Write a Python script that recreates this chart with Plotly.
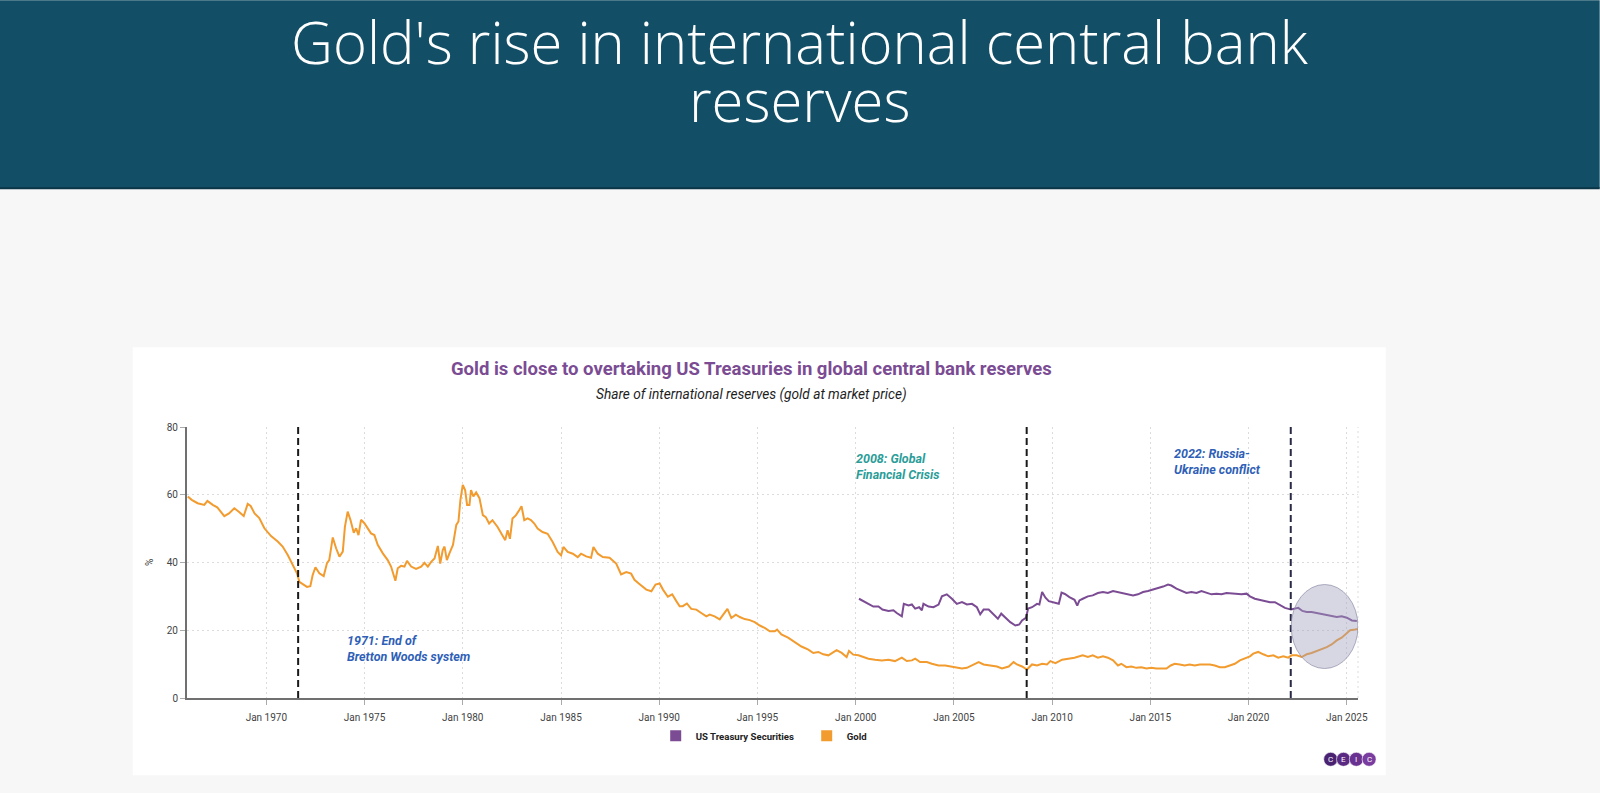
import pandas as pd
import plotly.graph_objects as go

# ---------------- data ----------------
gold_years = [
    1966.0, 1966.2, 1966.5, 1966.84, 1967.0, 1967.27, 1967.5, 1967.86, 1968.1, 1968.37,
    1968.6, 1968.85, 1969.05, 1969.2, 1969.4, 1969.64, 1969.9, 1970.24, 1970.58, 1970.83,
    1971.09, 1971.34, 1971.56, 1971.68, 1971.85, 1972.07, 1972.24, 1972.36, 1972.5, 1972.7,
    1972.92, 1973.09, 1973.2, 1973.38, 1973.55, 1973.72, 1973.89, 1974.0, 1974.14, 1974.28,
    1974.45, 1974.57, 1974.69, 1974.82, 1974.99, 1975.16, 1975.33, 1975.5, 1975.67, 1975.93,
    1976.18, 1976.35, 1976.49, 1976.57, 1976.69, 1976.86, 1977.03, 1977.16, 1977.37, 1977.62,
    1977.88, 1978.05, 1978.22, 1978.39, 1978.56, 1978.73, 1978.85, 1978.98, 1979.07, 1979.19,
    1979.32, 1979.5, 1979.67, 1979.78, 1979.88, 1980.0, 1980.12, 1980.22, 1980.34, 1980.42,
    1980.54, 1980.68, 1980.85, 1981.02, 1981.17, 1981.34, 1981.51, 1981.77, 1982.02, 1982.16,
    1982.28, 1982.4, 1982.53, 1982.7, 1982.87, 1982.99, 1983.13, 1983.3, 1983.47, 1983.64,
    1983.81, 1984.06, 1984.32, 1984.57, 1984.83, 1985.0, 1985.12, 1985.34, 1985.6, 1985.85,
    1986.02, 1986.28, 1986.53, 1986.65, 1986.87, 1987.13, 1987.47, 1987.81, 1988.06, 1988.32,
    1988.57, 1988.74, 1988.96, 1989.34, 1989.6, 1989.81, 1990.02, 1990.19, 1990.44, 1990.66,
    1990.87, 1991.04, 1991.2, 1991.41, 1991.63, 1991.89, 1992.14, 1992.4, 1992.57, 1992.82,
    1993.08, 1993.3, 1993.47, 1993.67, 1993.9, 1994.1, 1994.35, 1994.61, 1994.86, 1995.12,
    1995.37, 1995.63, 1995.88, 1996.0, 1996.22, 1996.56, 1996.9, 1997.24, 1997.59, 1997.84,
    1998.1, 1998.35, 1998.61, 1998.81, 1999.03, 1999.29, 1999.54, 1999.66, 1999.88, 2000.14,
    2000.39, 2000.65, 2000.99, 2001.33, 2001.67, 2002.0, 2002.35, 2002.6, 2002.86, 2003.03,
    2003.28, 2003.62, 2003.88, 2004.22, 2004.56, 2004.81, 2005.07, 2005.41, 2005.66, 2006.0,
    2006.26, 2006.51, 2006.85, 2007.19, 2007.45, 2007.79, 2008.04, 2008.21, 2008.47, 2008.72,
    2008.98, 2009.23, 2009.49, 2009.74, 2009.91, 2010.17, 2010.51, 2010.88, 2011.14, 2011.39,
    2011.56, 2011.82, 2012.07, 2012.33, 2012.59, 2012.84, 2013.1, 2013.35, 2013.52, 2013.78,
    2014.03, 2014.29, 2014.54, 2014.8, 2015.05, 2015.31, 2015.56, 2015.82, 2016.04, 2016.24,
    2016.5, 2016.75, 2017.0, 2017.26, 2017.52, 2017.77, 2018.03, 2018.28, 2018.54, 2018.79,
    2019.05, 2019.3, 2019.56, 2019.81, 2020.07, 2020.24, 2020.49, 2020.75, 2021.0, 2021.26,
    2021.51, 2021.77, 2022.02, 2022.19, 2022.45, 2022.7, 2022.96, 2023.21, 2023.47, 2023.72,
    2023.98, 2024.23, 2024.49, 2024.74, 2025.0, 2025.17, 2025.43, 2025.56,
]
gold_share = [
    59.5, 58.5, 57.5, 57.0, 58.2, 57.0, 56.3, 53.7, 54.5, 56.0,
    55.0, 53.7, 57.3, 56.7, 54.5, 53.1, 50.1, 47.8, 46.2, 44.7,
    42.2, 39.3, 36.8, 34.3, 33.6, 32.8, 33.0, 36.3, 38.6, 36.8,
    36.0, 39.9, 40.7, 47.4, 44.2, 41.7, 43.2, 50.6, 55.0, 52.6,
    48.8, 50.1, 48.1, 52.6, 51.6, 50.1, 48.6, 48.1, 45.2, 42.7,
    40.7, 38.8, 35.8, 34.6, 38.3, 39.0, 38.8, 40.5, 38.8, 38.1,
    38.8, 39.9, 38.8, 40.2, 41.2, 44.9, 39.7, 43.7, 44.7, 40.7,
    42.7, 45.2, 51.1, 52.1, 58.5, 62.9, 61.4, 57.0, 57.0, 61.4,
    59.5, 60.7, 59.0, 54.0, 53.4, 51.5, 52.5, 50.5, 48.0, 46.6,
    49.5, 47.0, 53.0, 53.9, 55.4, 56.6, 52.5, 53.0, 52.5, 51.5,
    50.0, 49.0, 48.5, 46.1, 43.1, 42.1, 44.6, 43.1, 42.6, 41.6,
    42.6, 41.8, 41.4, 44.6, 42.6, 41.6, 41.4, 39.7, 36.5, 37.2,
    36.7, 34.9, 33.8, 32.0, 31.5, 33.5, 33.8, 32.0, 29.9, 30.6,
    28.6, 27.1, 27.1, 27.9, 26.3, 26.1, 25.1, 24.1, 24.6, 24.1,
    23.2, 25.1, 26.3, 23.6, 24.6, 23.9, 23.3, 23.0, 22.4, 21.4,
    20.7, 19.7, 19.7, 20.2, 18.8, 17.8, 16.5, 15.2, 14.3, 13.3,
    13.6, 12.9, 12.6, 13.3, 14.1, 13.3, 12.1, 13.9, 12.8, 12.6,
    12.1, 11.6, 11.3, 11.1, 11.3, 10.9, 11.9, 10.9, 11.1, 11.6,
    10.6, 10.6, 10.1, 9.6, 9.6, 9.3, 9.1, 8.7, 8.9, 9.9,
    10.6, 9.9, 9.6, 9.3, 8.7, 9.3, 10.6, 9.9, 9.3, 8.4,
    9.9, 9.6, 10.1, 9.9, 10.9, 10.3, 11.3, 11.6, 11.9, 12.3,
    12.6, 12.1, 12.6, 11.9, 12.3, 11.9, 11.1, 9.6, 10.1, 9.1,
    9.3, 8.9, 9.1, 8.7, 8.9, 8.7, 8.7, 8.7, 9.6, 10.1,
    9.9, 9.6, 9.9, 9.6, 9.9, 9.9, 9.9, 9.6, 9.1, 9.1,
    9.6, 10.1, 11.1, 11.6, 12.3, 13.1, 13.6, 12.9, 12.3, 12.6,
    11.9, 12.3, 11.9, 12.6, 12.6, 12.1, 12.9, 13.3, 13.9, 14.3,
    15.0, 15.8, 17.0, 17.8, 19.0, 20.0, 20.2, 20.4,
]

ust_years = [
    2000.17, 2000.39, 2000.65, 2000.9, 2001.16, 2001.36, 2001.67, 2001.92, 2002.09, 2002.35,
    2002.45, 2002.69, 2002.86, 2003.03, 2003.23, 2003.37, 2003.45, 2003.71, 2003.96, 2004.22,
    2004.39, 2004.64, 2004.9, 2005.15, 2005.41, 2005.66, 2005.92, 2006.17, 2006.34, 2006.51,
    2006.77, 2007.02, 2007.24, 2007.41, 2007.62, 2007.87, 2008.13, 2008.33, 2008.47, 2008.67,
    2008.78, 2008.98, 2009.23, 2009.35, 2009.49, 2009.66, 2009.83, 2010.09, 2010.34, 2010.48,
    2010.65, 2010.88, 2011.14, 2011.28, 2011.39, 2011.56, 2011.82, 2012.07, 2012.33, 2012.59,
    2012.84, 2013.1, 2013.35, 2013.61, 2013.86, 2014.12, 2014.37, 2014.63, 2014.88, 2015.14,
    2015.39, 2015.65, 2015.9, 2016.07, 2016.33, 2016.58, 2016.84, 2017.09, 2017.35, 2017.6,
    2017.86, 2018.11, 2018.37, 2018.62, 2018.88, 2019.13, 2019.39, 2019.64, 2019.9, 2020.07,
    2020.32, 2020.58, 2020.83, 2021.09, 2021.34, 2021.6, 2021.85, 2022.16, 2022.36, 2022.53,
    2022.74, 2022.96, 2023.21, 2023.47, 2023.72, 2023.98, 2024.23, 2024.49, 2024.74, 2025.0,
    2025.26, 2025.51,
]
ust_share = [
    29.3, 28.6, 28.0, 27.0, 27.0, 26.1, 25.7, 25.9, 25.1, 24.1,
    27.8, 27.3, 27.6, 26.4, 26.8, 25.9, 27.8, 27.0, 26.8, 27.6,
    30.0, 30.6, 29.3, 27.8, 28.3, 27.6, 27.8, 26.8, 24.7, 26.1,
    26.1, 24.7, 23.4, 24.9, 23.7, 22.4, 21.4, 21.7, 22.9, 23.7,
    26.4, 26.8, 27.8, 27.6, 31.3, 29.6, 28.6, 28.3, 27.8, 31.1,
    30.7, 29.8, 29.0, 27.3, 28.8, 29.3, 30.0, 30.3, 31.0, 31.3,
    31.0, 31.6, 31.3, 30.8, 30.6, 30.3, 30.6, 31.3, 31.6, 32.0,
    32.3, 32.9, 33.5, 33.2, 32.3, 31.6, 31.0, 31.3, 31.0, 31.6,
    31.0, 30.6, 30.8, 30.6, 31.0, 30.8, 30.8, 30.6, 30.8, 30.0,
    29.3, 29.0, 28.6, 28.3, 28.3, 27.3, 26.6, 26.1, 26.3, 26.6,
    25.7, 25.4, 25.4, 25.1, 24.7, 24.4, 24.1, 23.9, 24.1, 23.7,
    22.9, 22.7,
]

event_dates = ["1971-08-15", "2008-09-15", "2022-02-24"]
event_labels = ["1971: End of<br>Bretton Woods system",
                "2008: Global<br>Financial Crisis",
                "2022: Russia-<br>Ukraine conflict"]
event_colors = ["#2f5fb7", "#2a9d98", "#2f5fb7"]
series_names = ["US Treasury Securities", "Gold"]

# ---------------- helpers ----------------
W, H = 1600, 793
PL, PR, PT, PB = 187.3, 1358.3, 426.7, 697.7


def px(x):
    return (x - PL) / (PR - PL)


def py(y):
    return (PB - y) / (PB - PT)


def to_date(yf):
    y = int(yf)
    return pd.Timestamp(year=y, month=1, day=1) + pd.Timedelta(days=(yf - y) * 365.25)


PURPLE = "#7b4c93"
ORANGE = "#f29b2e"

fig = go.Figure()
fig.add_trace(go.Scatter(x=[to_date(v) for v in ust_years], y=ust_share, mode="lines",
                         line=dict(color=PURPLE, width=2), showlegend=False,
                         name=series_names[0]))
fig.add_trace(go.Scatter(x=[to_date(v) for v in gold_years], y=gold_share, mode="lines",
                         line=dict(color=ORANGE, width=2), showlegend=False,
                         name=series_names[1]))
# legend entries (square swatches)
for nm, col in zip(series_names, [PURPLE, ORANGE]):
    fig.add_trace(go.Scatter(x=[None], y=[None], mode="markers", name=nm,
                             marker=dict(symbol="square", size=11, color=col)))

shapes = []
# header band
shapes.append(dict(type="rect", xref="paper", yref="paper", x0=px(0), x1=px(W),
                   y0=py(188), y1=py(0), fillcolor="#124f66", line=dict(width=0), layer="below"))
shapes.append(dict(type="line", xref="paper", yref="paper", x0=px(0), x1=px(W),
                   y0=py(188), y1=py(188), line=dict(color="#0b3447", width=2), layer="below"))
# card
shapes.append(dict(type="rect", xref="paper", yref="paper", x0=px(133), x1=px(1386),
                   y0=py(775), y1=py(347), fillcolor="white", line=dict(width=0), layer="below"))
# right-edge dotted grid line
shapes.append(dict(type="line", xref="paper", yref="paper", x0=1, x1=1, y0=0, y1=1,
                   line=dict(color="#dcdcdc", width=1, dash="2px,3px"), layer="below"))
# event lines
for d, c in zip(event_dates, ["#1a1a1a", "#1a1a1a", "#2a2a48"]):
    shapes.append(dict(type="line", xref="x", yref="paper", x0=d, x1=d, y0=0, y1=1,
                       line=dict(color=c, width=2, dash="7px,4px"), layer="above"))
# highlight ellipse
shapes.append(dict(type="circle", xref="x", yref="y", x0=to_date(2022.17), x1=to_date(2025.57),
                   y0=8.7, y1=33.5, fillcolor="rgba(160,160,190,0.42)",
                   line=dict(color="rgba(140,140,165,0.7)", width=1), layer="above"))
# CEIC logo circles
logo_cols = ["#4a2272", "#5a2982", "#6a3290", "#7a3d9f"]
logo_x = [1331.0, 1343.8, 1356.6, 1369.4]
for cx, col in zip(logo_x, logo_cols):
    shapes.append(dict(type="circle", xref="paper", yref="paper",
                       x0=px(cx - 7), x1=px(cx + 7), y0=py(766), y1=py(752),
                       fillcolor=col, line=dict(color="white", width=0.6), layer="above"))

annotations = []
# page title (two lines)
annotations.append(dict(xref="paper", yref="paper", x=px(800), y=py(41),
                        text="Gold's rise in international central bank", showarrow=False,
                        xanchor="center", yanchor="middle",
                        font=dict(family="Open Sans", size=58, color="white", weight=300)))
annotations.append(dict(xref="paper", yref="paper", x=px(800), y=py(99),
                        text="reserves", showarrow=False,
                        xanchor="center", yanchor="middle",
                        font=dict(family="Open Sans", size=58, color="white", weight=300)))
# chart title / subtitle
annotations.append(dict(xref="paper", yref="paper", x=px(752), y=py(369),
                        text="Gold is close to overtaking US Treasuries in global central bank reserves",
                        showarrow=False, xanchor="center", yanchor="middle",
                        font=dict(family="Roboto", size=18.5, color=PURPLE, weight="bold")))
annotations.append(dict(xref="paper", yref="paper", x=px(752), y=py(394),
                        text="Share of international reserves (gold at market price)",
                        showarrow=False, xanchor="center", yanchor="middle",
                        font=dict(family="Roboto", size=13.7, color="#1e1e1e", style="italic")))
# y-axis unit
annotations.append(dict(xref="paper", yref="paper", x=px(150), y=py(562), text="%",
                        showarrow=False, textangle=-90, xanchor="center", yanchor="middle",
                        font=dict(family="Roboto", size=10, color="#444")))
# event labels
label_pos = [(345.7, 648.0), (854.3, 466.2), (1172.0, 461.5)]
for (lx, ly), t, c in zip(label_pos, event_labels, event_colors):
    annotations.append(dict(xref="paper", yref="paper", x=px(lx), y=py(ly), text=t,
                            showarrow=False, xanchor="left", yanchor="middle", align="left",
                            font=dict(family="Roboto", size=12.5, color=c, weight="bold",
                                      style="italic")))
# CEIC letters
for cx, ch in zip(logo_x, "CEIC"):
    annotations.append(dict(xref="paper", yref="paper", x=px(cx), y=py(759), text=ch,
                            showarrow=False, xanchor="center", yanchor="middle",
                            font=dict(family="Roboto", size=8, color="white")))

fig.update_layout(
    width=W, height=H,
    margin=dict(l=PL, r=W - PR, t=PT, b=H - PB, pad=0),
    paper_bgcolor="#f7f7f7", plot_bgcolor="white",
    shapes=shapes, annotations=annotations,
    font=dict(family="Roboto", color="#444"),
    legend=dict(orientation="h", x=px(656), y=py(721), xanchor="left", yanchor="top",
                entrywidth=106, entrywidthmode="pixels",
                bgcolor="rgba(0,0,0,0)", font=dict(family="Roboto", size=9.6, color="#222",
                                                    weight="bold")),
    xaxis=dict(type="date", range=[to_date(1965.96), to_date(2025.57)],
               tick0="1970-01-01", dtick="M60", tickformat="%b %Y",
               ticks="outside", ticklen=5, tickcolor="#aaaaaa",
               tickfont=dict(family="Roboto", size=10, color="#444"),
               showgrid=True, gridcolor="#dcdcdc", griddash="2px,3px", gridwidth=1,
               showline=True, linecolor="#707070", linewidth=2, zeroline=False,
               ticklabelstandoff=4),
    yaxis=dict(range=[0, 80], dtick=20, ticks="outside", ticklen=5, tickcolor="#aaaaaa",
               tickfont=dict(family="Roboto", size=10, color="#444"),
               showgrid=True, gridcolor="#dcdcdc", griddash="2px,3px", gridwidth=1,
               showline=True, linecolor="#707070", linewidth=2, zeroline=False),
)

fig.write_html("out.html")
